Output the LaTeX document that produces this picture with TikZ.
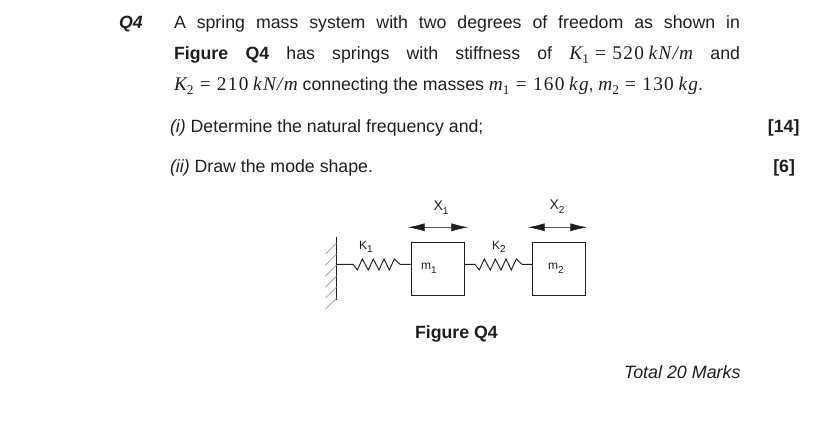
\documentclass[tikz,border=0pt]{standalone}
\usepackage{fontspec}
\setmainfont{Liberation Sans}
\newfontfamily\serf[LetterSpace=6.5]{Liberation Serif}
\usetikzlibrary{arrows.meta}
\definecolor{ink}{HTML}{1E1E1E}
\tikzset{
  txt/.style={anchor=base west,inner sep=0pt,outer sep=0pt,text=ink,font=\fontsize{13.3pt}{16pt}\selectfont},
  rgt/.style={txt,anchor=base east},
  lab/.style={inner sep=0pt,text=ink,font=\fontsize{9pt}{11pt}\selectfont},
  biglab/.style={lab,font=\fontsize{10.5pt}{12pt}\selectfont},
  massbox/.style={draw=ink,line width=0.75pt,minimum width=39.75pt,minimum height=39.75pt,inner sep=0pt},
  wallline/.style={draw=ink,line width=0.9pt},
  hatchline/.style={draw=gray!80,line width=0.5pt},
  springline/.style={draw=ink,line width=0.7pt},
  motion/.style={draw=gray!70!black,line width=0.4pt,{Latex[length=12.5pt,width=6pt,color=ink,fill=ink]}-{Latex[length=12.5pt,width=6pt,color=ink,fill=ink]}},
}
\newcommand{\js}[2]{\makebox[#1pt][s]{#2}}
% upright subscript for the sans labels
\newcommand{\lsub}[1]{\raisebox{-0.3em}{\fontsize{7.5pt}{8pt}\selectfont #1}}
% formula pieces set in a serif, sized to the body text
\newcommand{\vr}[1]{{\serf\itshape\fontsize{14.5pt}{16pt}\selectfont #1}}
\newcommand{\nm}[1]{{\serf\fontsize{14.5pt}{16pt}\selectfont #1}}
\newcommand{\ssb}[1]{\raisebox{-0.25em}{\serf\fontsize{10pt}{10pt}\selectfont #1}}
\newcommand{\eqq}{\hspace{4.7pt}\nm{=}\hspace{4.7pt}}
\begin{document}
\begin{tikzpicture}[x=0.75pt,y=-0.75pt]
\useasboundingbox (0,0) rectangle (838,430);
\node[txt,font=\fontsize{13.3pt}{16pt}\selectfont\bfseries\itshape] (q) at (119,28) {Q4};
\node[txt] (l1) at (174,28) {\js{424.5}{A spring mass system with two degrees of freedom as shown in}};
\node[txt] (l2) at (174,59) {\js{424.5}{\mbox{\textbf{Figure\hspace{13pt}Q4}} has springs with stiffness of \mbox{\vr{K}\ssb{1}\eqq\nm{520}\hspace{3.5pt}\vr{kN/m}} and}};
\node[txt] (l3) at (174,90) {\mbox{\vr{K}\ssb{2}\eqq\nm{210}\hspace{3.5pt}\vr{kN/m}} connecting the masses \mbox{\vr{m}\ssb{1}\eqq\nm{160}\hspace{3.5pt}\vr{kg},\hspace{3.5pt}\vr{m}\ssb{2}\eqq\nm{130}\hspace{3.5pt}\vr{kg}.}};
\node[txt] (l4) at (170,132) {\textit{(i)} Determine the natural frequency and;};
\node[txt] (l5) at (170,172) {\textit{(ii)} Draw the mode shape.};
\node[rgt,font=\fontsize{13.3pt}{16pt}\selectfont\bfseries] (m14) at (799.5,132) {[14]};
\node[rgt,font=\fontsize{13.3pt}{16pt}\selectfont\bfseries] (m6) at (795,172) {[6]};
\node[txt,font=\fontsize{13.3pt}{16pt}\selectfont\bfseries] (fig) at (415,338) {Figure Q4};
\node[txt,font=\fontsize{13.4pt}{16pt}\selectfont\itshape] (tot) at (624,378) {Total 20 Marks};

\coordinate (wt) at (336.7,236.7);
\coordinate (wb) at (336.7,300);
\coordinate (wm) at (336.7,264.3);
\draw[wallline] (wt) -- (wb);
\foreach \y in {243,254,265,276,287,298}
  \draw[hatchline] (336.7,\y) -- ++(-11,11);
\node[massbox] (m1) at (437.5,269.2) {};
\node[massbox] (m2) at (559.2,269.2) {};
\draw[springline] (wm) -- (353,264.3) -- (357.3,270) -- (362.3,259) -- (368.3,270) -- (373.3,259) -- (379,270) -- (384,259) -- (389.3,270) -- (394.3,259) -- (400,264.3) -- (m1.west |- wm);
\coordinate (s2) at (m1.east |- wm);
\draw[springline] (s2) -- (475,264.3) -- (479.3,270) -- (484.3,259) -- (490.3,270) -- (495.3,259) -- (501,270) -- (506,259) -- (511.3,270) -- (516.3,259) -- (522,264.3) -- (m2.west |- wm);
\coordinate (a1l) at (408,227.3); \coordinate (a1r) at (468,227.3);
\coordinate (a2l) at (528,227.3); \coordinate (a2r) at (587,227.3);
\draw[motion] (a1l) -- (a1r);
\draw[motion] (a2l) -- (a2r);
\node[biglab] (x1) at (441,208) {X\lsub{1}};
\node[biglab] (x2) at (557,207) {X\lsub{2}};
\node[lab] (k1) at (366,247) {K\lsub{1}};
\node[lab] (k2) at (499,247) {K\lsub{2}};
\node[lab] (t1) at (429,268) {m\lsub{1}};
\node[lab] (t2) at (556,268) {m\lsub{2}};
\end{tikzpicture}
\end{document}
